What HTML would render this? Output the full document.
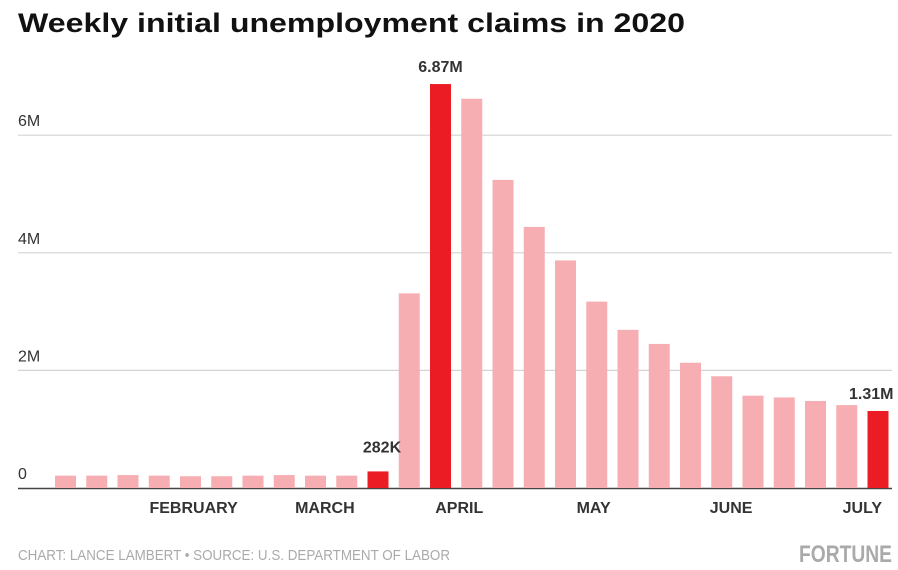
<!DOCTYPE html>
<html><head><meta charset="utf-8"><style>
body{margin:0;background:#fff;}
svg{display:block;font-family:"Liberation Sans",sans-serif;}
</style></head><body>
<svg id="chart" width="898" height="570">
<text x="18" y="32" font-size="27" font-weight="bold" fill="#111" textLength="667" lengthAdjust="spacingAndGlyphs">Weekly initial unemployment claims in 2020</text>
<g id="grid"></g><g id="bars"></g><g id="labels"></g>
<text x="18" y="560" font-size="15" fill="#aaa" textLength="432" lengthAdjust="spacingAndGlyphs">CHART: LANCE LAMBERT • SOURCE: U.S. DEPARTMENT OF LABOR</text>
<text x="892" y="562" font-size="24" font-weight="bold" fill="#aaa" text-anchor="end" textLength="93" lengthAdjust="spacingAndGlyphs">FORTUNE</text>
</svg>
<script>
const values=[0.21,0.21,0.22,0.21,0.20,0.20,0.21,0.22,0.21,0.21,0.282,3.31,6.87,6.62,5.24,4.44,3.87,3.17,2.69,2.45,2.13,1.90,1.57,1.54,1.48,1.41,1.31];
const highlight=[10,12,26];
const valueLabels={10:"282K",12:"6.87M",26:"1.31M"};
const yTicks=[0,2,4,6];
const yTickLabels=["0","2M","4M","6M"];
const months=["FEBRUARY","MARCH","APRIL","MAY","JUNE","JULY"];
const monthPos=[4.1,8.3,12.6,16.9,21.3,25.5];
const NS="http://www.w3.org/2000/svg";
const y=v=>488-v*58.8;
const xb=i=>55+i*31.25;
const bw=21;
function mk(tag,attrs,parent){const e=document.createElementNS(NS,tag);for(const k in attrs)e.setAttribute(k,attrs[k]);document.getElementById(parent).appendChild(e);return e;}
yTicks.forEach((t,i)=>{
 if(t>0){const l=mk('line',{x1:18,x2:892,y1:y(t),y2:y(t),stroke:'#d4d4d4','stroke-width':1.2},'grid');
 
 }
 const tx=mk('text',{x:18,y:y(t)-9,'font-size':16,fill:'#333'},'labels');tx.textContent=yTickLabels[i];
 
 
});
values.forEach((v,i)=>{
 const hi=highlight.includes(i);
 const r=mk('rect',{x:xb(i),y:y(v),width:bw,height:488-y(v),fill:hi?'#ec1c24':'#f7aeb2'},'bars');
 
 
 if(valueLabels[i]){const t=mk('text',{x:i===10?xb(i)+bw/2+4:xb(i)+bw/2,y:y(v)-(i===10?19:12),'font-size':16,'font-weight':'bold',fill:'#333','text-anchor':i===26?'end':'middle'},'labels');
 if(i===26)t.setAttribute('x',xb(i)+bw+5);
 t.textContent=valueLabels[i];
 
 }
});
const ax=mk('line',{x1:18,x2:892,y1:488.5,y2:488.5,stroke:'#444','stroke-width':1.5},'grid');


months.forEach((m,i)=>{const t=mk('text',{x:xb(monthPos[i])+bw/2,y:513,'font-size':16,'font-weight':'bold',fill:'#333','text-anchor':'middle'},'labels');t.textContent=m;
 
 });
</script>
</body></html>
